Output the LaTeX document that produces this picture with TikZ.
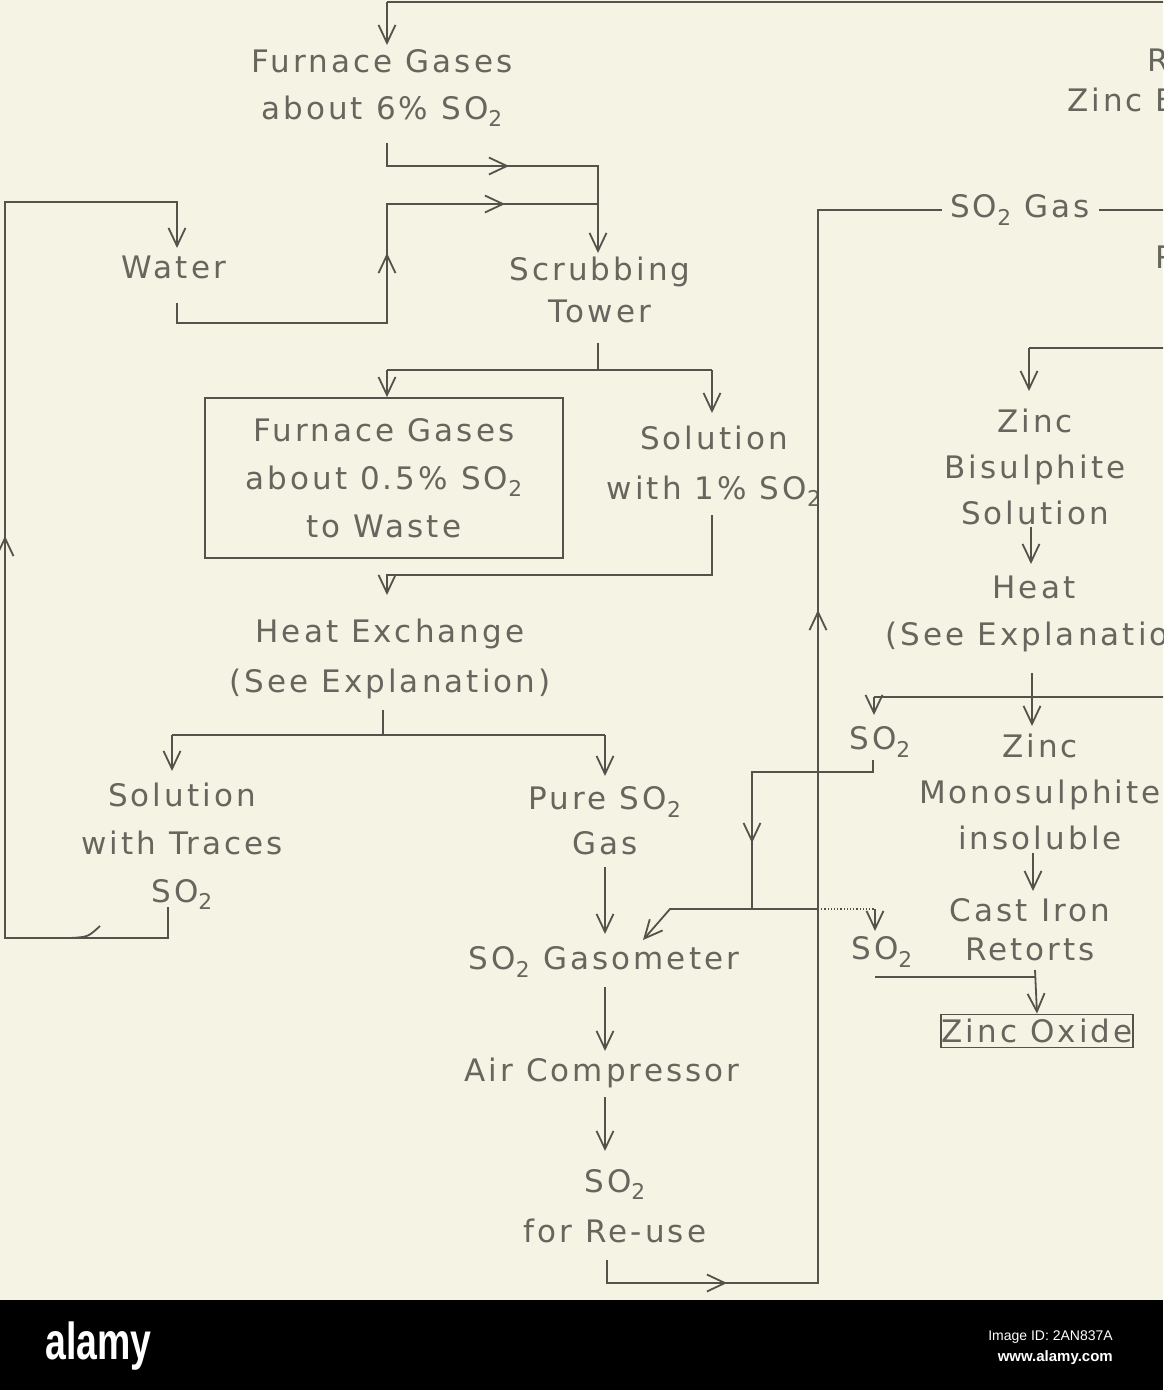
\documentclass[tikz,border=0pt]{standalone}
\usepackage{fontspec}
\setmainfont[LetterSpace=10]{DejaVu Sans}
\newfontfamily\wmfont[FakeStretch=0.72]{Liberation Sans}
\newfontfamily\idfont{Liberation Sans}
\usetikzlibrary{arrows.meta,decorations.markings}
\definecolor{paper}{HTML}{F5F3E4}
\definecolor{ink}{HTML}{53534C}
\definecolor{txt}{HTML}{66665E}
\newcommand{\sotwo}{SO\textsubscript{2}}
\tikzset{
  vtip/.tip={Straight Barb[length=18pt,width=17pt,line width=1.8pt]},
  lbl/.style={font=\fontsize{31}{#1}\selectfont, text=txt, align=center, inner sep=0pt},
  lbl/.default=46,
  wire/.style={color=ink, line width=1.8pt},
  arr/.style={wire, -{vtip}},
  midarr/.style={postaction={decorate, decoration={markings, mark=at position #1 with {\arrow{vtip}}}}},
  frame/.style={draw=ink, line width=1.8pt},
}
\begin{document}
\begin{tikzpicture}[x=1pt,y=-1pt]
\fill[paper] (0,0) rectangle (1163,1390);
\useasboundingbox (0,0) rectangle (1163,1390);
\begin{scope}
\clip (0,0) rectangle (1163,1300);
% ---------- labels ----------
\node[lbl=47] (fg1) at (382,88) {Furnace Gases\\about 6\% \sotwo};
\node[lbl] (water) at (174,267) {Water};
\node[lbl=42] (scrub) at (600,290) {Scrubbing\\Tower};
\node[lbl=48, frame, minimum width=358pt, minimum height=160pt] (waste) at (384,478) {Furnace Gases\\about 0.5\% \sotwo\\to Waste};
\node[lbl=50] (sol1) at (714,466) {Solution\\with 1\% \sotwo};
\node[lbl=50] (heat) at (390,659) {Heat Exchange\\(See Explanation)};
\node[lbl=48] (sol2) at (182,846) {Solution\\with Traces\\\sotwo};
\node[lbl=45] (pure) at (605,821) {Pure \sotwo\\Gas};
\node[lbl] (gaso) at (604,962) {\sotwo{} Gasometer};
\node[lbl] (comp) at (602,1073) {Air Compressor};
\node[lbl=50] (reuse) at (615,1206) {\sotwo\\for Re-use};
\node[lbl] (so2gas) at (1020,210) {\sotwo{} Gas};
\node[lbl=46] (zb) at (1035,467) {Zinc\\Bisulphite\\Solution};
\node[lbl=47] (heat2) at (1046,614) {Heat\hspace*{24pt}\\(See Explanation)};
\node[lbl] (so2a) at (880,742) {\sotwo};
\node[lbl=46] (zm) at (1040,792) {Zinc\\Monosulphite\\insoluble};
\node[lbl=39] (cir) at (1030,930) {Cast Iron\\Retorts};
\node[lbl] (so2b) at (882,952) {\sotwo};
\node[lbl, frame, minimum width=190pt, minimum height=33pt] (zo) at (1037,1031) {Zinc Oxide};
\node[lbl, anchor=west] (rawA) at (1147,60) {Raw};
\node[lbl, anchor=west] (rawB) at (1067,100) {Zinc Blende};
\node[lbl, anchor=west] (frag) at (1155,257) {Roaster};
% ---------- coordinates ----------
\coordinate (c-top) at (387,2);
\coordinate (c-topE) at (1170,2);
\coordinate (fg1-in) at (387,45);
\coordinate (fg1-out) at (387,143);
\coordinate (j1) at (387,166);
\coordinate (j1r) at (598,166);
\coordinate (scrub-in) at (598,253);
\coordinate (w-out) at (177,303);
\coordinate (w-j) at (177,323);
\coordinate (up-j) at (387,323);
\coordinate (j2) at (387,204);
\coordinate (j2r) at (598,204);
\coordinate (s2-out) at (168,907);
\coordinate (s2-j) at (168,938);
\coordinate (lp-a) at (5,938);
\coordinate (lp-b) at (5,202);
\coordinate (lp-c) at (177,202);
\coordinate (water-in) at (177,248);
\coordinate (tk-a) at (70,938);
\coordinate (tk-b) at (100,926);
\coordinate (scrub-out) at (598,343);
\coordinate (j3) at (598,370);
\coordinate (j3L) at (387,370);
\coordinate (j3R) at (712,370);
\coordinate (sol1-in) at (712,413);
\coordinate (sol1-out) at (712,515);
\coordinate (j4) at (712,575);
\coordinate (j4L) at (387,575);
\coordinate (heat-in) at (387,595);
\coordinate (heat-out) at (383,710);
\coordinate (j5) at (383,735);
\coordinate (j5L) at (172,735);
\coordinate (j5R) at (605,735);
\coordinate (sol2-in) at (172,771);
\coordinate (pure-in) at (605,776);
\coordinate (pure-out) at (605,867);
\coordinate (gaso-in) at (605,934);
\coordinate (gaso-out) at (605,987);
\coordinate (comp-in) at (605,1051);
\coordinate (comp-out) at (605,1097);
\coordinate (reuse-in) at (605,1151);
\coordinate (reuse-out) at (607,1260);
\coordinate (j6) at (607,1283);
\coordinate (j6R) at (818,1283);
\coordinate (j7) at (818,210);
\coordinate (gasL) at (942,210);
\coordinate (gasR) at (1099,210);
\coordinate (gasE) at (1170,210);
\coordinate (zbj) at (1029,348);
\coordinate (zbE) at (1170,348);
\coordinate (zb-in) at (1029,391);
\coordinate (zb-out) at (1031,527);
\coordinate (heat2-in) at (1031,564);
\coordinate (heat2-out) at (1032,673);
\coordinate (zm-in) at (1032,726);
\coordinate (j8) at (874,697);
\coordinate (j8E) at (1170,697);
\coordinate (so2a-in) at (874,715);
\coordinate (so2a-out) at (873,760);
\coordinate (j9) at (873,772);
\coordinate (j10) at (752,772);
\coordinate (j11) at (752,909);
\coordinate (j12) at (670,909);
\coordinate (gaso-in2) at (643,940);
\coordinate (j13) at (818,909);
\coordinate (j14) at (875,909);
\coordinate (so2b-in) at (875,931);
\coordinate (zm-out) at (1033,853);
\coordinate (cir-in) at (1033,891);
\coordinate (cir-out) at (1035,970);
\coordinate (cir-j) at (1035,977);
\coordinate (so2b-j) at (875,977);
% ---------- connectors ----------
\draw[wire] (c-top) -- (c-topE);
\draw[arr] (c-top) -- (fg1-in);
\draw[arr, midarr=145pt] (fg1-out) -- (j1) -- (j1r) -- (scrub-in);
\draw[wire, midarr=300pt, midarr=467pt] (w-out) -- (w-j) -- (up-j) -- (j2) -- (j2r);
\draw[arr, midarr=596pt] (s2-out) -- (s2-j) -- (lp-a) -- (lp-b) -- (lp-c) -- (water-in);
\draw[wire] (tk-a) .. controls (88,937) .. (tk-b);
\draw[wire] (scrub-out) -- (j3);
\draw[wire] (j3L) -- (j3R);
\draw[arr] (j3L) -- (waste.north -| j3L);
\draw[arr] (j3R) -- (sol1-in);
\draw[arr] (sol1-out) -- (j4) -- (j4L) -- (heat-in);
\draw[wire] (heat-out) -- (j5);
\draw[wire] (j5L) -- (j5R);
\draw[arr] (j5L) -- (sol2-in);
\draw[arr] (j5R) -- (pure-in);
\draw[arr] (pure-out) -- (gaso-in);
\draw[arr] (gaso-out) -- (comp-in);
\draw[arr] (comp-out) -- (reuse-in);
\draw[wire, midarr=143pt, midarr=907pt] (reuse-out) -- (j6) -- (j6R) -- (j7) -- (gasL);
\draw[wire] (gasR) -- (gasE);
\draw[wire] (zbj) -- (zbE);
\draw[arr] (zbj) -- (zb-in);
\draw[arr] (zb-out) -- (heat2-in);
\draw[arr] (heat2-out) -- (zm-in);
\draw[wire] (j8) -- (j8E);
\draw[arr] (j8) -- (so2a-in);
\draw[wire, midarr=204pt] (so2a-out) -- (j9) -- (j10) -- (j11);
\draw[arr] (j13) -- (j11) -- (j12) -- (gaso-in2);
\draw[wire, line width=1.2pt, dotted] (j13) -- (j14);
\draw[arr] (j14) -- (so2b-in);
\draw[arr] (zm-out) -- (cir-in);
\draw[arr] (cir-out) -- (zo.north);
\draw[wire] (so2b-j) -- (cir-j);
\end{scope}
% ---------- watermark bar ----------
\fill[black] (0,1300) rectangle (1163,1390);
\node[font=\wmfont\bfseries\fontsize{52}{52}\selectfont, text=white, anchor=west, inner sep=0pt] (alamy) at (45,1346) {alamy};
\node[font=\idfont\fontsize{14}{16}\selectfont, text=white, anchor=east, inner sep=0pt] (imgid) at (1113,1337) {Image ID: 2AN837A};
\node[font=\idfont\bfseries\fontsize{15}{16}\selectfont, text=white, anchor=east, inner sep=0pt] (www) at (1113,1358) {www.alamy.com};
\end{tikzpicture}
\end{document}
